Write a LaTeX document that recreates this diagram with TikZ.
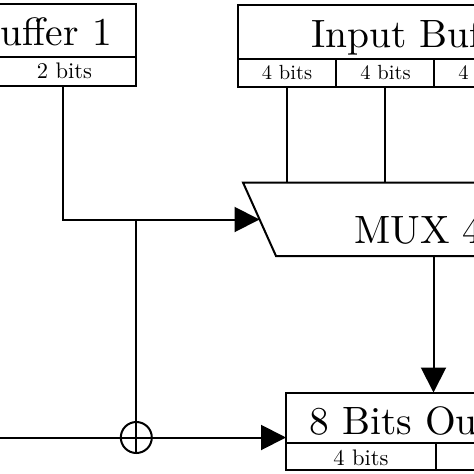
\documentclass[tikz,border=0pt]{standalone}
\usepackage{fontspec}
\setmainfont{lmroman10-regular}[Extension=.otf]
\usetikzlibrary{arrows.meta}
\tikzset{
  x=1pt,y=-1pt,
  wire/.style={line width=2pt,line join=miter},
  arrowwire/.style={wire,-{Triangle[length=25pt,width=25pt]}},
  boxcell/.style={draw,line width=2pt,inner sep=0pt,outer sep=0pt,anchor=north west},
  bigtext/.style={inner sep=0pt,font=\fontsize{39.5}{42}\selectfont},
  smalltext/.style={inner sep=0pt,anchor=base,font=\fontsize{22.5}{25}\selectfont},
  smallertext/.style={inner sep=0pt,anchor=base,font=\fontsize{20.5}{23}\selectfont},
}
\begin{document}
\begin{tikzpicture}
\useasboundingbox (0,0) rectangle (474,474);
\clip (0,0) rectangle (474,474);
% Input Buffer 1
\node[boxcell,minimum width=292pt,minimum height=53pt] (b1) at (-156,3.5) {};
\node[boxcell,minimum width=146pt,minimum height=29pt] (b1a) at (-156,56.5) {};
\node[boxcell,minimum width=146pt,minimum height=29pt] (b1b) at (-10,56.5) {};
\node[bigtext,anchor=base east] (b1t) at (112,45.5) {Input Buffer 1};
\node[smalltext] (b1bt) at (64.5,78) {2 bits};
% Input Buffer 2
\node[boxcell,minimum width=392pt,minimum height=54pt] (b2) at (238,5) {};
\node[boxcell,minimum width=98pt,minimum height=28pt] (c1) at (238,59) {};
\node[boxcell,minimum width=98pt,minimum height=28pt] (c2) at (336,59) {};
\node[boxcell,minimum width=98pt,minimum height=28pt] (c3) at (434,59) {};
\node[boxcell,minimum width=98pt,minimum height=28pt] (c4) at (532,59) {};
\node[bigtext,anchor=base west] (b2t) at (311,47) {Input Buffer 2};
\node[smallertext] (c1t) at (287,79) {4 bits};
\node[smallertext] (c2t) at (385.5,79) {4 bits};
\node[smallertext] (c3t) at (483.5,79) {4 bits};
% MUX
\coordinate (mtl) at (243,182.5);
\coordinate (mtr) at (624,182.5);
\coordinate (mbr) at (591,256);
\coordinate (mbl) at (276,256);
\coordinate (muxin) at (259.5,219.5);
\coordinate (muxout) at (433.5,256);
\draw[wire] (mtl) -- (mtr) -- (mbr) -- (mbl) -- cycle;
\node[bigtext,anchor=base west] (muxt) at (354,243) {MUX 4:1};
% Output
\node[boxcell,minimum width=300pt,minimum height=50.5pt] (o) at (286,392.5) {};
\node[boxcell,minimum width=150pt,minimum height=27pt] (o1) at (286,443) {};
\node[boxcell,minimum width=150pt,minimum height=27pt] (o2) at (436,443) {};
\node[bigtext,anchor=base west] (ot) at (309,434) {8 Bits Output};
\node[smalltext] (o1t) at (361,465) {4 bits};
% Xor
\node[draw,line width=2pt,circle,minimum size=31pt,inner sep=0pt,outer sep=0pt] (xor) at (136.3,437.5) {};
\coordinate (west) at (0,437.5);
\coordinate (j) at (136.3,219.5);
\coordinate (k) at (63,219.5);
% Connectors
\draw[wire] (c1.south) -- (c1.south |- mtl);
\draw[wire] (c2.south) -- (c2.south |- mtl);
\draw[arrowwire] (b1b.south) -- (k) -- (muxin);
\draw[wire] (j) -- (xor.south);
\draw[wire] (xor.west) -- (xor.east);
\draw[wire] (west) -- (xor.west);
\draw[arrowwire] (xor.east) -- (xor.east -| o.west);
\draw[arrowwire] (muxout) -- (muxout |- o.north);
\end{tikzpicture}
\end{document}
